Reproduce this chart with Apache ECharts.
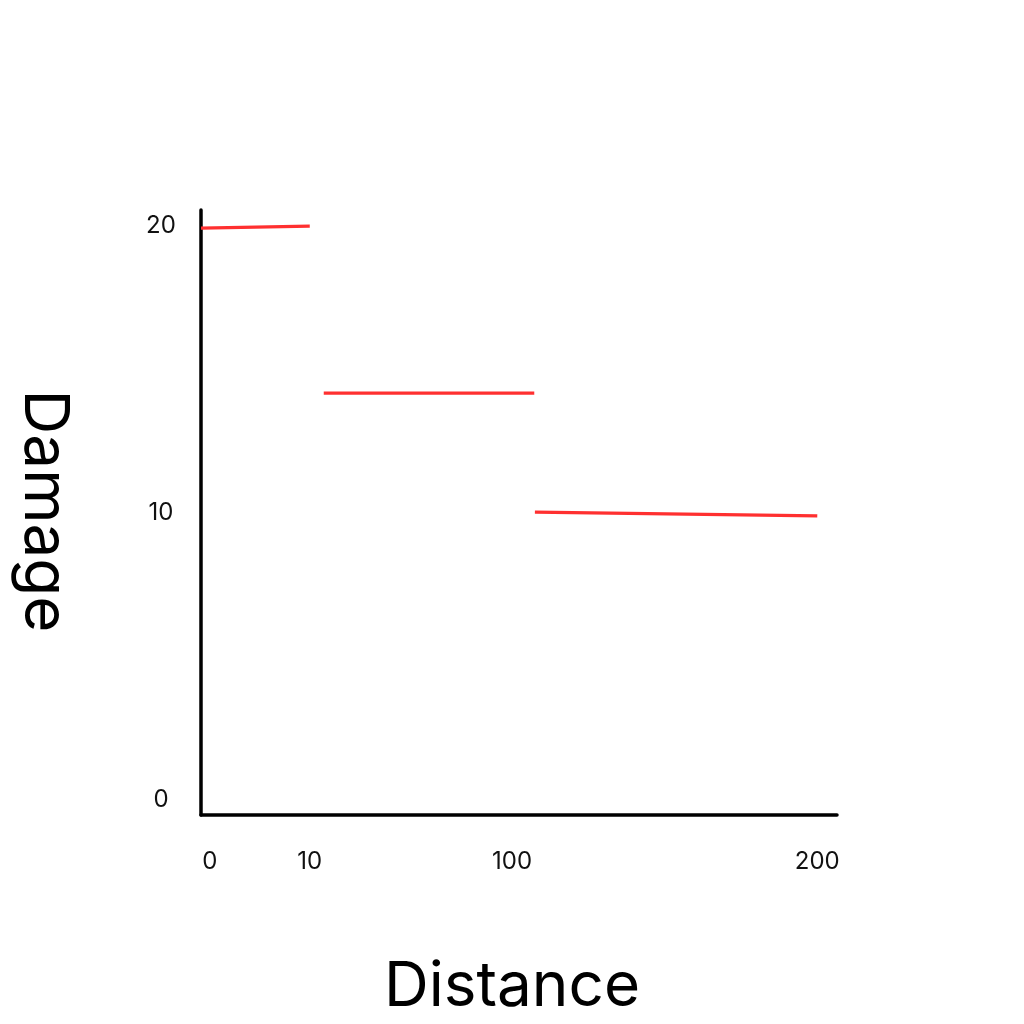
<!DOCTYPE html>
<html>
<head>
<meta charset="utf-8">
<script src="https://cdn.jsdelivr.net/npm/echarts@6/dist/echarts.min.js"></script>
<style>html,body{margin:0;padding:0;background:#fff}#c{width:1024px;height:1024px}</style>
</head>
<body>
<div id="c"></div>
<script>
// x axis is drawn in "position along the axis" units (0..100), labelled with distances
const xTickPositions = [1.4, 17.1, 48.9, 96.9];
const xTickLabels = ['0', '10', '100', '200'];
const yTickValues = [0, 10, 20];
// damage segments
const segStartX = [0, 19.3, 52.5];
const segEndX = [17.1, 52.4, 96.9];
const segStartY = [19.93, 14.18, 10.03];
const segEndY = [20.0, 14.18, 9.90];

const chart = echarts.init(document.getElementById('c'), null, {renderer: 'canvas'});
const series = segStartX.map((x0, i) => ({
  type: 'line',
  data: [[x0, segStartY[i]], [segEndX[i], segEndY[i]]],
  symbol: 'none',
  lineStyle: {color: '#ff3030', width: 3.2},
  silent: true,
  animation: false
}));

chart.setOption({
  animation: false,
  backgroundColor: '#fff',
  grid: {left: 201, right: 187, top: 210, bottom: 209, containLabel: false, outerBoundsMode: 'none'},
  xAxis: {
    type: 'value', min: 0, max: 100,
    splitLine: {show: false},
    axisTick: {show: false},
    axisLine: {onZero: false, lineStyle: {color: '#000', width: 3.5}},
    axisLabel: {
      customValues: xTickPositions,
      formatter: v => { const i = xTickPositions.indexOf(v); return i >= 0 ? xTickLabels[i] : ''; },
      margin: 35, color: '#111', fontFamily: 'Inter', fontWeight: 'normal', fontSize: 24
    }
  },
  yAxis: {
    type: 'value', min: -0.52, max: 20.56,
    splitLine: {show: false},
    axisTick: {show: false},
    axisLine: {show: true, onZero: false, lineStyle: {color: '#000', width: 3.5}},
    axisLabel: {
      customValues: yTickValues,
      formatter: v => String(v),
      align: 'center', margin: 40, color: '#111', fontFamily: 'Inter', fontWeight: 'normal', fontSize: 24
    }
  },
  graphic: [
    {type: 'text', x: 512, y: 987, style: {text: 'Distance', font: '62px Inter', fill: '#000', align: 'center', verticalAlign: 'middle'}},
    {type: 'text', x: 44, y: 511, rotation: -Math.PI / 2, style: {text: 'Damage', font: '62px Inter', fill: '#000', align: 'center', verticalAlign: 'middle'}}
  ],
  series: series
});
</script>
</body>
</html>
